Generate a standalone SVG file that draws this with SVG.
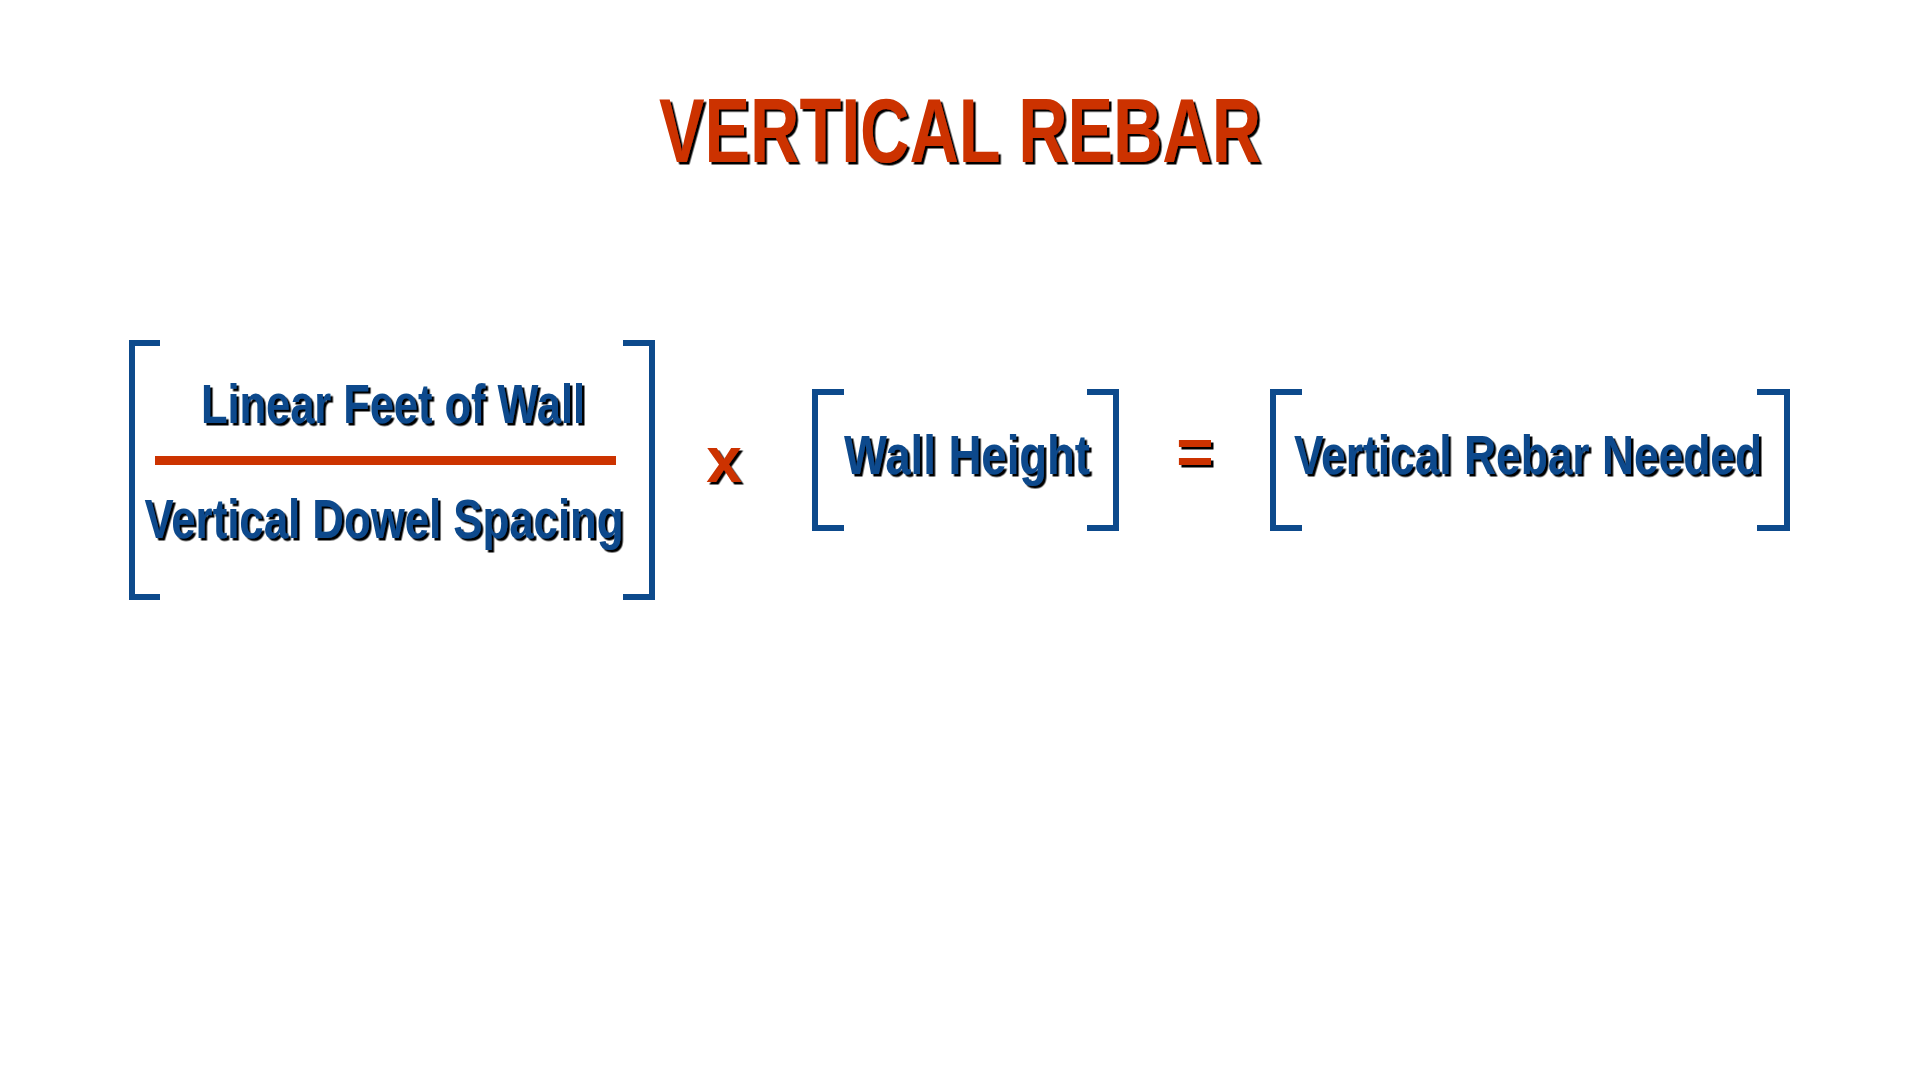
<svg xmlns="http://www.w3.org/2000/svg" width="1920" height="1080" viewBox="0 0 1920 1080">
<defs>
<filter id="sh" x="-5%" y="-10%" width="110%" height="130%"><feDropShadow dx="2.5" dy="2.5" stdDeviation="0" flood-color="#000"/></filter>
<style>
.t{font-family:"Liberation Sans",Arial,sans-serif;font-weight:bold;filter:url(#sh)}
.b{fill:#0d4a8c;font-size:56px}
.o{fill:#cc3300}
.br{fill:none;stroke:#0d4a8c;stroke-width:6}
</style>
</defs>
<rect width="1920" height="1080" fill="#fff"/>
<g id="title"><text class="t o" x="960" y="162" font-size="90" text-anchor="middle" textLength="602" lengthAdjust="spacingAndGlyphs">VERTICAL REBAR</text></g>
<g id="fraction">
<path class="br" d="M160 343H132V597H160M623 343H652V597H623"/>
<text class="t b" x="393" y="423" text-anchor="middle" textLength="384" lengthAdjust="spacingAndGlyphs">Linear Feet of Wall</text>
<rect x="155" y="456" width="461" height="9" fill="#cc3300"/>
<text class="t b" x="384" y="538" text-anchor="middle" textLength="479" lengthAdjust="spacingAndGlyphs">Vertical Dowel Spacing</text>
</g>
<g id="times"><text class="t o" x="724" y="482" font-size="64" text-anchor="middle">x</text></g>
<g id="wallheight">
<path class="br" d="M844 392H815V528H844M1087 392H1116V528H1087"/>
<text class="t b" x="967" y="474" text-anchor="middle" textLength="246" lengthAdjust="spacingAndGlyphs">Wall Height</text>
</g>
<g id="equals"><text class="t o" x="1195" y="474" font-size="64" text-anchor="middle">=</text></g>
<g id="result">
<path class="br" d="M1302 392H1273V528H1302M1757 392H1787V528H1757"/>
<text class="t b" x="1528" y="474" text-anchor="middle" textLength="468" lengthAdjust="spacingAndGlyphs">Vertical Rebar Needed</text>
</g>
</svg>
